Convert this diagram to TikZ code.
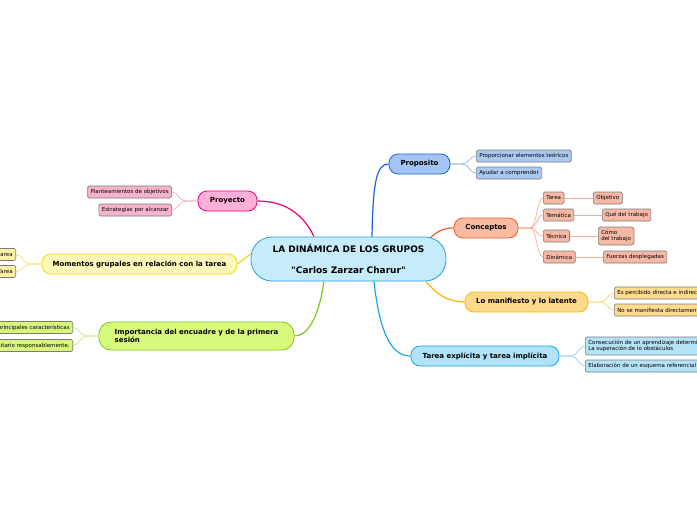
\documentclass[tikz,border=0pt]{standalone}
\usepackage{fontspec}
\setmainfont{DejaVu Sans}[Ligatures=TeXOff]
\usetikzlibrary{backgrounds,calc}
\definecolor{cfill}{HTML}{C6ECFB}\definecolor{cline}{HTML}{2D9BE0}
\definecolor{pfill}{HTML}{A3C4F5}\definecolor{pline}{HTML}{1D63D6}\definecolor{pleaf}{HTML}{A9C9F3}\definecolor{plink}{HTML}{8AB4F0}
\definecolor{yfill}{HTML}{FFB0D8}\definecolor{yline}{HTML}{EE0077}\definecolor{yleaf}{HTML}{F7B3CD}\definecolor{ylink}{HTML}{F7A6C6}
\definecolor{kfill}{HTML}{F9BAA2}\definecolor{kline}{HTML}{F25A2A}\definecolor{kleaf}{HTML}{F7B9A5}\definecolor{klink}{HTML}{F9AE96}
\definecolor{mfill}{HTML}{FFD98C}\definecolor{mline}{HTML}{FFB400}\definecolor{mleaf}{HTML}{FEDB8E}\definecolor{mlink}{HTML}{FFD27A}
\definecolor{tfill}{HTML}{B0E3FA}\definecolor{tline}{HTML}{1AA6E8}\definecolor{tleaf}{HTML}{B4E2F7}\definecolor{tlink}{HTML}{8FD3F3}
\definecolor{gfill}{HTML}{FFF8B8}\definecolor{gline}{HTML}{F2D41C}\definecolor{gleaf}{HTML}{FFF2A8}\definecolor{glink}{HTML}{F5E06A}
\definecolor{ifill}{HTML}{D8FA7C}\definecolor{iline}{HTML}{84C31A}\definecolor{ileaf}{HTML}{D8F67C}\definecolor{ilink}{HTML}{C3E88A}
\definecolor{leafgray}{HTML}{7A7A7A}
\tikzset{
  branch/.style={draw, rounded corners=9pt, line width=0.8pt, minimum height=20pt, inner sep=0pt, font=\fontsize{7}{8.6}\selectfont\bfseries},
  leaf/.style={draw=leafgray, rounded corners=1.5pt, line width=0.6pt, minimum height=12pt, inner xsep=3pt, inner ysep=0pt, font=\fontsize{5.5}{6.6}\selectfont, align=left},
  link/.style={line width=1.2pt},
  leaflink/.style={line width=0.7pt},
}
\begin{document}
\begin{tikzpicture}[x=1pt,y=-1pt]
\useasboundingbox (0,0) rectangle (697,520);
\clip (0,0) rectangle (697,520);
% center
\node[draw=cline, fill=cfill, line width=0.8pt, rounded corners=21pt, minimum width=195pt, minimum height=44pt, inner sep=0pt, align=center, font=\fontsize{9}{10}\selectfont\bfseries] (c) at (348.5,259) {LA DINÁMICA DE LOS GRUPOS\\[10.5pt]"Carlos Zarzar Charur"};
% branches
\node[branch, draw=pline, fill=pfill, minimum width=61pt] (p) at (419.5,164) {Proposito};
\node[branch, draw=yline, fill=yfill, minimum width=59pt] (y) at (227.5,201) {Proyecto};
\node[branch, draw=kline, fill=kfill, minimum width=64pt] (k) at (486,228) {Conceptos};
\node[branch, draw=mline, fill=mfill, minimum width=123pt] (m) at (526.5,302) {Lo manifiesto y lo latente};
\node[branch, draw=tline, fill=tfill, minimum width=148pt] (t) at (485,356) {Tarea explícita y tarea implícita};
\node[branch, draw=gline, fill=gfill, minimum width=195pt] (g) at (139.5,264) {Momentos grupales en relación con la tarea};
\node[branch, draw=iline, fill=ifill, minimum width=195pt, minimum height=28pt, rounded corners=12pt, align=left] (i) at (196.5,336) {Importancia del encuadre y de la primera\\sesión};
% leaves
\node[leaf, fill=pleaf, anchor=west] (p1) at (476,156) {Proporcionar elementos teóricos};
\node[leaf, fill=pleaf, anchor=west] (p2) at (476,173) {Ayudar a comprender};
\node[leaf, fill=yleaf, anchor=east] (y1) at (172,192) {Planteamientos de objetivos};
\node[leaf, fill=yleaf, anchor=east] (y2) at (172,210) {Estrategias por alcanzar};
\node[leaf, fill=kleaf, anchor=west] (k1) at (543,198) {Tarea};
\node[leaf, fill=kleaf, anchor=west] (k2) at (543,215) {Temática};
\node[leaf, fill=kleaf, anchor=west] (k3) at (543,236) {Técnica};
\node[leaf, fill=kleaf, anchor=west] (k4) at (543,257) {Dinámica};
\node[leaf, fill=kleaf, anchor=west] (d1) at (593,198) {Objetivo};
\node[leaf, fill=kleaf, anchor=west] (d2) at (602,215) {Qué del trabajo};
\node[leaf, fill=kleaf, anchor=west, minimum height=18pt, rounded corners=2.5pt] (d3) at (598,236) {Cómo\\del trabajo};
\node[leaf, fill=kleaf, anchor=west] (d4) at (603,257) {Fuerzas desplegadas};
\node[leaf, fill=mleaf, anchor=west] (m1) at (614,293) {Es percibido directa e indirectamente};
\node[leaf, fill=mleaf, anchor=west] (m2) at (614,310) {No se manifiesta directamente};
\node[leaf, fill=tleaf, anchor=west, minimum height=18pt] (t1) at (585,346) {Consecución de un aprendizaje determinado\\La superación de lo obstáculos};
\node[leaf, fill=tleaf, anchor=west] (t2) at (585,366) {Elaboración de un esquema referencial};
\node[leaf, fill=gleaf, anchor=east] (g1) at (16,254.5) {Pretarea};
\node[leaf, fill=gleaf, anchor=east] (g2) at (16,271.5) {Tarea};
\node[leaf, fill=ileaf, anchor=east] (i1) at (73,327.5) {Conocer sus principales características};
\node[leaf, fill=ileaf, anchor=east] (i2) at (73,345.5) {Asumir el rol de depositario responsablemente.};
\begin{pgfonlayer}{background}
% main links
\draw[link, pline] ([xshift=23.5pt]c.north) .. controls +(1,-55) and +(-12,0) .. (p.west);
\draw[link, yline] ([xshift=-34.5pt]c.north) .. controls +(-12,-25) and +(25,0) .. (y.east);
\draw[link, kline] ([xshift=82pt,yshift=-1pt]c.north) .. controls +(8,-7) and +(-10,0) .. (k.west);
\draw[link, mline] ([xshift=77.5pt]c.south) .. controls +(12,15) and +(-14,0) .. (m.west);
\draw[link, tline] ([xshift=25.5pt]c.south) .. controls +(6,55) and +(-18,0) .. (t.west);
\draw[link, gline] ([yshift=5pt]c.west) -- (g.east);
\draw[link, iline] ([xshift=-24.5pt]c.south) .. controls +(-6,40) and +(12,0) .. (i.east);
% leaf links
\foreach \a/\b/\col in {p/p1/plink,p/p2/plink,k/k1/klink,k/k2/klink,k/k3/klink,k/k4/klink,m/m1/mlink,m/m2/mlink,t/t1/tlink,t/t2/tlink}
  \draw[leaflink, \col] (\a.east) -- ++(12,0) .. controls +(6,0) and +(-6,0) .. (\b.west);
\foreach \a/\b/\col in {y/y1/ylink,y/y2/ylink,g/g1/glink,g/g2/glink,i/i1/ilink,i/i2/ilink}
  \draw[leaflink, \col] (\a.west) -- ++(-12,0) .. controls +(-6,0) and +(6,0) .. (\b.east);
\foreach \a/\b in {k1/d1,k2/d2,k3/d3,k4/d4}
  \draw[leaflink, klink] (\a.east) -- (\b.west);
\end{pgfonlayer}
\end{tikzpicture}
\end{document}
